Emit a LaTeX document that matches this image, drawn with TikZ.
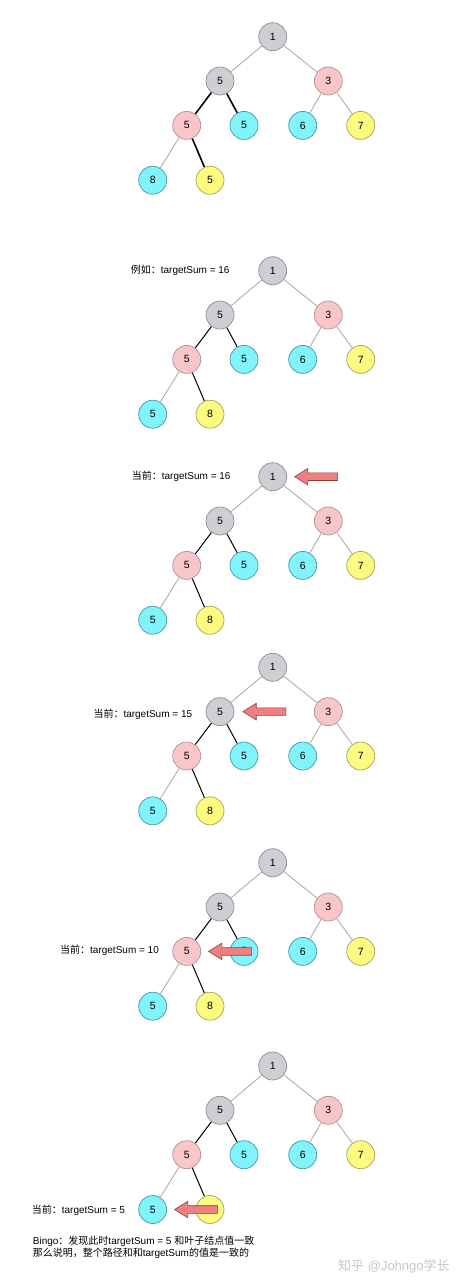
\documentclass[tikz,border=0pt]{standalone}
\usepackage{fontspec}
\setmainfont{Liberation Sans}
\newfontfamily\cjk{Noto Sans CJK SC}
\usetikzlibrary{shapes.arrows}
\definecolor{greyfill}{HTML}{CDCFD3}
\definecolor{greyline}{HTML}{8A9099}
\definecolor{pinkfill}{HTML}{F8C6C8}
\definecolor{pinkline}{HTML}{B49094}
\definecolor{cyanfill}{HTML}{80F4FA}
\definecolor{cyanline}{HTML}{4A94AC}
\definecolor{yellowfill}{HTML}{FDFA80}
\definecolor{yellowline}{HTML}{A8A258}
\definecolor{edgegrey}{HTML}{A8A8A8}
\definecolor{arrowfill}{HTML}{F08080}
\definecolor{arrowline}{HTML}{8B4040}
\tikzstyle{tnode} = [circle, draw, line width=0.7pt, minimum size=28pt,
    inner sep=0pt, font=\fontsize{10.5}{12}\selectfont]
\tikzstyle{greynode} = [tnode, fill=greyfill, draw=greyline]
\tikzstyle{pinknode} = [tnode, fill=pinkfill, draw=pinkline]
\tikzstyle{cyannode} = [tnode, fill=cyanfill, draw=cyanline]
\tikzstyle{yellownode} = [tnode, fill=yellowfill, draw=yellowline]
\tikzstyle{edge} = [draw=edgegrey, line width=0.8pt]
\tikzstyle{pointer} = [single arrow, shape border rotate=180, fill=arrowfill,
    draw=arrowline, line width=0.6pt, minimum height=43pt, minimum width=16pt,
    single arrow head extend=4.5pt, single arrow tip angle=64,
    inner xsep=0pt, inner ysep=3.5pt, anchor=tip]
\tikzstyle{note} = [anchor=west, inner sep=0pt, font=\fontsize{10}{12}\selectfont]

\begin{document}
\begin{tikzpicture}[x=1pt, y=-1pt]
\fill[white] (0,0) rectangle (474,1288);
% six copies of the tree, the first one with other leaves
\foreach \i/\y/\ll/\lr/\hw in {1/36.7/8/5/1.6pt, 2/270.7/5/8/1pt, 3/476.7/5/8/1pt,
    4/667.3/5/8/1pt, 5/862.7/5/8/1pt, 6/1066/5/8/1pt} {
  \node[greynode] (t\i-r) at (272.7,\y) {1};
  \node[greynode] (t\i-a) at (220,{\y+44.3}) {5};
  \node[pinknode] (t\i-b) at (328.3,{\y+44.3}) {3};
  \node[pinknode] (t\i-a1) at (186.7,{\y+88.7}) {5};
  \node[cyannode] (t\i-a2) at (244,{\y+88.7}) {5};
  \node[cyannode] (t\i-b1) at (302.7,{\y+88.7}) {6};
  \node[yellownode] (t\i-b2) at (360.7,{\y+88.7}) {7};
  \node[cyannode] (t\i-l1) at (152.7,{\y+143.5}) {\ll};
  \node[yellownode] (t\i-l2) at (210,{\y+143.5}) {\lr};
  \draw[edge] (t\i-r) -- (t\i-a);
  \draw[edge] (t\i-r) -- (t\i-b);
  \draw[edge] (t\i-b) -- (t\i-b1);
  \draw[edge] (t\i-b) -- (t\i-b2);
  \draw[edge] (t\i-a1) -- (t\i-l1);
  \draw[black, line width=\hw] (t\i-a) -- (t\i-a1);
  \draw[black, line width=\hw] (t\i-a) -- (t\i-a2);
  \draw[black, line width=\hw] (t\i-a1) -- (t\i-l2);
}
% texts and pointers
\node[note] (s2) at (130.7,270.7) {{\cjk 例如：}targetSum = 16};
\node[note] (s3) at (131.7,476.7) {{\cjk 当前：}targetSum = 16};
\node[pointer] (p3) at ([xshift=7pt]t3-r.east) {};
\node[note] (s4) at (93.3,714) {{\cjk 当前：}targetSum = 15};
\node[pointer] (p4) at ([xshift=8pt]t4-a.east) {};
\node[note] (s5) at (60,950.7) {{\cjk 当前：}targetSum = 10};
\node[pointer] (p5) at ([xshift=7pt]t5-a1.east) {};
\node[note] (s6) at (31.7,1210) {{\cjk 当前：}targetSum = 5};
\node[pointer] (p6) at ([xshift=7pt]t6-l1.east) {};
\node[note] (bingo1) at (32.7,1241) {Bingo{\cjk ：发现此时}targetSum = 5 {\cjk 和叶子结点值一致}};
\node[note] (bingo2) at (32.7,1253.3) {{\cjk 那么说明，整个路径和和}targetSum{\cjk 的值是一致的}};
\node[anchor=west, inner sep=0pt, text=black!22, font=\fontsize{13}{15}\selectfont]
    (mark) at (338,1266.7) {{\cjk 知乎} @Johngo{\cjk 学长}};
\end{tikzpicture}
\end{document}
